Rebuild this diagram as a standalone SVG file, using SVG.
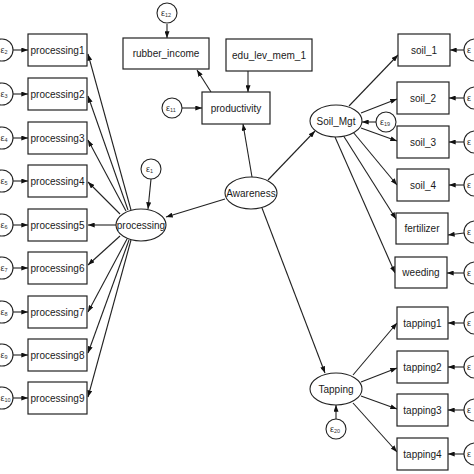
<svg xmlns="http://www.w3.org/2000/svg" width="474" height="474" viewBox="0 0 474 474">
<style>
.b{fill:#fff;stroke:#222;stroke-width:1.2}
.e{fill:#fff;stroke:#222;stroke-width:1.1}
.t{font-family:"Liberation Sans",Arial,sans-serif;font-size:10px;fill:#1a1a1a;text-anchor:middle;dominant-baseline:central}
.s{font-family:"Liberation Sans",Arial,sans-serif;font-size:9px;fill:#333;dominant-baseline:central}
.s tspan{font-size:5.5px}
.c line{stroke:#222;stroke-width:1.1;marker-end:url(#a)}
</style>
<defs>
<marker id="a" viewBox="0 0 8 6" refX="8" refY="3" markerWidth="7" markerHeight="5" orient="auto" markerUnits="userSpaceOnUse"><path d="M0,0 L8,3 L0,6 z" fill="#111"/></marker>
</defs>
<rect width="474" height="474" fill="#fff"/>
<g class="c" id="connectors">
<line x1="13" y1="50" x2="28" y2="50"/>
<line x1="13" y1="94" x2="28" y2="94"/>
<line x1="13" y1="138" x2="28" y2="138"/>
<line x1="13" y1="181" x2="28" y2="181"/>
<line x1="13" y1="225" x2="28" y2="225"/>
<line x1="13" y1="268" x2="28" y2="268"/>
<line x1="13" y1="312" x2="28" y2="312"/>
<line x1="13" y1="355" x2="28" y2="355"/>
<line x1="13" y1="398" x2="28" y2="398"/>
<line x1="131" y1="210" x2="88" y2="54"/>
<line x1="128" y1="210" x2="88" y2="96"/>
<line x1="126" y1="211" x2="88" y2="140"/>
<line x1="120" y1="214" x2="88" y2="182"/>
<line x1="116" y1="225" x2="88" y2="225"/>
<line x1="120" y1="236" x2="88" y2="265"/>
<line x1="127" y1="239" x2="88" y2="312"/>
<line x1="129" y1="240" x2="88" y2="353"/>
<line x1="131" y1="240" x2="88" y2="397"/>
<line x1="151" y1="179" x2="148" y2="209"/>
<line x1="225" y1="199" x2="166" y2="217"/>
<line x1="252" y1="177" x2="243" y2="124"/>
<line x1="268" y1="180" x2="315" y2="131"/>
<line x1="262" y1="208" x2="325" y2="373"/>
<line x1="167" y1="24" x2="167" y2="38"/>
<line x1="211" y1="92" x2="197" y2="70"/>
<line x1="248" y1="71" x2="248" y2="92"/>
<line x1="182" y1="108" x2="202" y2="108"/>
<line x1="349" y1="106" x2="398" y2="55"/>
<line x1="361" y1="113" x2="397" y2="99"/>
<line x1="361" y1="128" x2="397" y2="141"/>
<line x1="353" y1="132" x2="397" y2="185"/>
<line x1="343" y1="135" x2="396" y2="219"/>
<line x1="335" y1="137" x2="395" y2="273"/>
<line x1="376" y1="122" x2="362" y2="122"/>
<line x1="464" y1="50" x2="450" y2="50"/>
<line x1="464" y1="98" x2="449" y2="98"/>
<line x1="464" y1="142" x2="449" y2="142"/>
<line x1="464" y1="185" x2="449" y2="185"/>
<line x1="464" y1="233" x2="448" y2="235"/>
<line x1="464" y1="273" x2="447" y2="273"/>
<line x1="353" y1="375" x2="397" y2="323"/>
<line x1="361" y1="382" x2="397" y2="368"/>
<line x1="361" y1="396" x2="397" y2="409"/>
<line x1="353" y1="403" x2="397" y2="452"/>
<line x1="336" y1="419" x2="336" y2="405"/>
<line x1="464" y1="323" x2="448" y2="323"/>
<line x1="464" y1="367" x2="448" y2="367"/>
<line x1="464" y1="410" x2="448" y2="410"/>
<line x1="464" y1="454" x2="448" y2="454"/>
</g>
<g id="processing1"><rect class="b" x="28" y="34" width="59" height="32"/><text class="t" x="57.5" y="50">processing1</text></g>
<g id="processing2"><rect class="b" x="28" y="78" width="59" height="32"/><text class="t" x="57.5" y="94">processing2</text></g>
<g id="processing3"><rect class="b" x="28" y="122" width="59" height="32"/><text class="t" x="57.5" y="138">processing3</text></g>
<g id="processing4"><rect class="b" x="28" y="165" width="59" height="32"/><text class="t" x="57.5" y="181">processing4</text></g>
<g id="processing5"><rect class="b" x="28" y="209" width="59" height="32"/><text class="t" x="57.5" y="225">processing5</text></g>
<g id="processing6"><rect class="b" x="28" y="252" width="59" height="32"/><text class="t" x="57.5" y="268">processing6</text></g>
<g id="processing7"><rect class="b" x="28" y="296" width="59" height="32"/><text class="t" x="57.5" y="312">processing7</text></g>
<g id="processing8"><rect class="b" x="28" y="339" width="59" height="32"/><text class="t" x="57.5" y="355">processing8</text></g>
<g id="processing9"><rect class="b" x="28" y="382" width="59" height="32"/><text class="t" x="57.5" y="398">processing9</text></g>
<g id="e2"><circle class="e" cx="2" cy="50" r="11"/><text class="s" x="0.5" y="50">ε<tspan dy="2">2</tspan></text></g>
<g id="e3"><circle class="e" cx="2" cy="94" r="11"/><text class="s" x="0.5" y="94">ε<tspan dy="2">3</tspan></text></g>
<g id="e4"><circle class="e" cx="2" cy="138" r="11"/><text class="s" x="0.5" y="138">ε<tspan dy="2">4</tspan></text></g>
<g id="e5"><circle class="e" cx="2" cy="181" r="11"/><text class="s" x="0.5" y="181">ε<tspan dy="2">5</tspan></text></g>
<g id="e6"><circle class="e" cx="2" cy="225" r="11"/><text class="s" x="0.5" y="225">ε<tspan dy="2">6</tspan></text></g>
<g id="e7"><circle class="e" cx="2" cy="268" r="11"/><text class="s" x="0.5" y="268">ε<tspan dy="2">7</tspan></text></g>
<g id="e8"><circle class="e" cx="2" cy="312" r="11"/><text class="s" x="0.5" y="312">ε<tspan dy="2">8</tspan></text></g>
<g id="e9"><circle class="e" cx="2" cy="355" r="11"/><text class="s" x="0.5" y="355">ε<tspan dy="2">9</tspan></text></g>
<g id="e10"><circle class="e" cx="2" cy="398" r="11"/><text class="s" x="0.5" y="398">ε<tspan dy="2">10</tspan></text></g>
<g id="processing"><ellipse class="e" cx="141" cy="225" rx="25" ry="16"/><text class="t" x="141" y="225">processing</text></g>
<g id="e1"><circle class="e" cx="151" cy="169" r="10"/><text class="s" x="146" y="169">ε<tspan dy="2">1</tspan></text></g>
<g id="awareness"><ellipse class="e" cx="251" cy="193" rx="26" ry="16"/><text class="t" x="251" y="193">Awareness</text></g>
<g id="rubber_income"><rect class="b" x="123" y="38" width="86" height="31"/><text class="t" x="166" y="53.5">rubber_income</text></g>
<g id="edu_lev_mem_1"><rect class="b" x="226" y="39" width="86" height="32"/><text class="t" x="269" y="55">edu_lev_mem_1</text></g>
<g id="productivity"><rect class="b" x="202" y="92" width="68" height="32"/><text class="t" x="236" y="108">productivity</text></g>
<g id="e12"><circle class="e" cx="167" cy="13" r="10"/><text class="s" x="161" y="13">ε<tspan dy="2">12</tspan></text></g>
<g id="e11"><circle class="e" cx="172" cy="108" r="10"/><text class="s" x="166" y="108">ε<tspan dy="2">11</tspan></text></g>
<g id="Soil_Mgt"><ellipse class="e" cx="336" cy="121" rx="26" ry="16"/><text class="t" x="336" y="121">Soil_Mgt</text></g>
<g id="e19"><circle class="e" cx="386" cy="122" r="10"/><text class="s" x="380" y="122">ε<tspan dy="2">19</tspan></text></g>
<g id="soil_1"><rect class="b" x="398" y="34" width="52" height="32"/><text class="t" x="424" y="50">soil_1</text></g>
<g id="soil_2"><rect class="b" x="397" y="82" width="52" height="32"/><text class="t" x="423" y="98">soil_2</text></g>
<g id="soil_3"><rect class="b" x="397" y="126" width="52" height="32"/><text class="t" x="423" y="142">soil_3</text></g>
<g id="soil_4"><rect class="b" x="397" y="169" width="52" height="32"/><text class="t" x="423" y="185">soil_4</text></g>
<g id="fertilizer"><rect class="b" x="396" y="213" width="52" height="31"/><text class="t" x="422" y="228.5">fertilizer</text></g>
<g id="weeding"><rect class="b" x="395" y="257" width="52" height="31"/><text class="t" x="421" y="272.5">weeding</text></g>
<g id="e13"><circle class="e" cx="475" cy="50" r="11"/><text class="s" x="467" y="50">ε</text></g>
<g id="e14"><circle class="e" cx="475" cy="98" r="11"/><text class="s" x="467" y="98">ε</text></g>
<g id="e15"><circle class="e" cx="475" cy="142" r="11"/><text class="s" x="467" y="142">ε</text></g>
<g id="e16"><circle class="e" cx="475" cy="185" r="11"/><text class="s" x="467" y="185">ε</text></g>
<g id="e17"><circle class="e" cx="475" cy="232" r="11"/><text class="s" x="467" y="232">ε</text></g>
<g id="e18"><circle class="e" cx="475" cy="273" r="11"/><text class="s" x="467" y="273">ε</text></g>
<g id="Tapping"><ellipse class="e" cx="336" cy="389" rx="26" ry="16"/><text class="t" x="336" y="389">Tapping</text></g>
<g id="e20"><circle class="e" cx="336" cy="429" r="10"/><text class="s" x="330" y="429">ε<tspan dy="2">20</tspan></text></g>
<g id="tapping1"><rect class="b" x="397" y="307" width="51" height="32"/><text class="t" x="422.5" y="323">tapping1</text></g>
<g id="tapping2"><rect class="b" x="397" y="351" width="51" height="32"/><text class="t" x="422.5" y="367">tapping2</text></g>
<g id="tapping3"><rect class="b" x="397" y="394" width="51" height="32"/><text class="t" x="422.5" y="410">tapping3</text></g>
<g id="tapping4"><rect class="b" x="397" y="438" width="51" height="32"/><text class="t" x="422.5" y="454">tapping4</text></g>
<g id="e21"><circle class="e" cx="475" cy="323" r="11"/><text class="s" x="467" y="323">ε</text></g>
<g id="e22"><circle class="e" cx="475" cy="367" r="11"/><text class="s" x="467" y="367">ε</text></g>
<g id="e23"><circle class="e" cx="475" cy="410" r="11"/><text class="s" x="467" y="410">ε</text></g>
<g id="e24"><circle class="e" cx="475" cy="454" r="11"/><text class="s" x="467" y="454">ε</text></g>
</svg>
